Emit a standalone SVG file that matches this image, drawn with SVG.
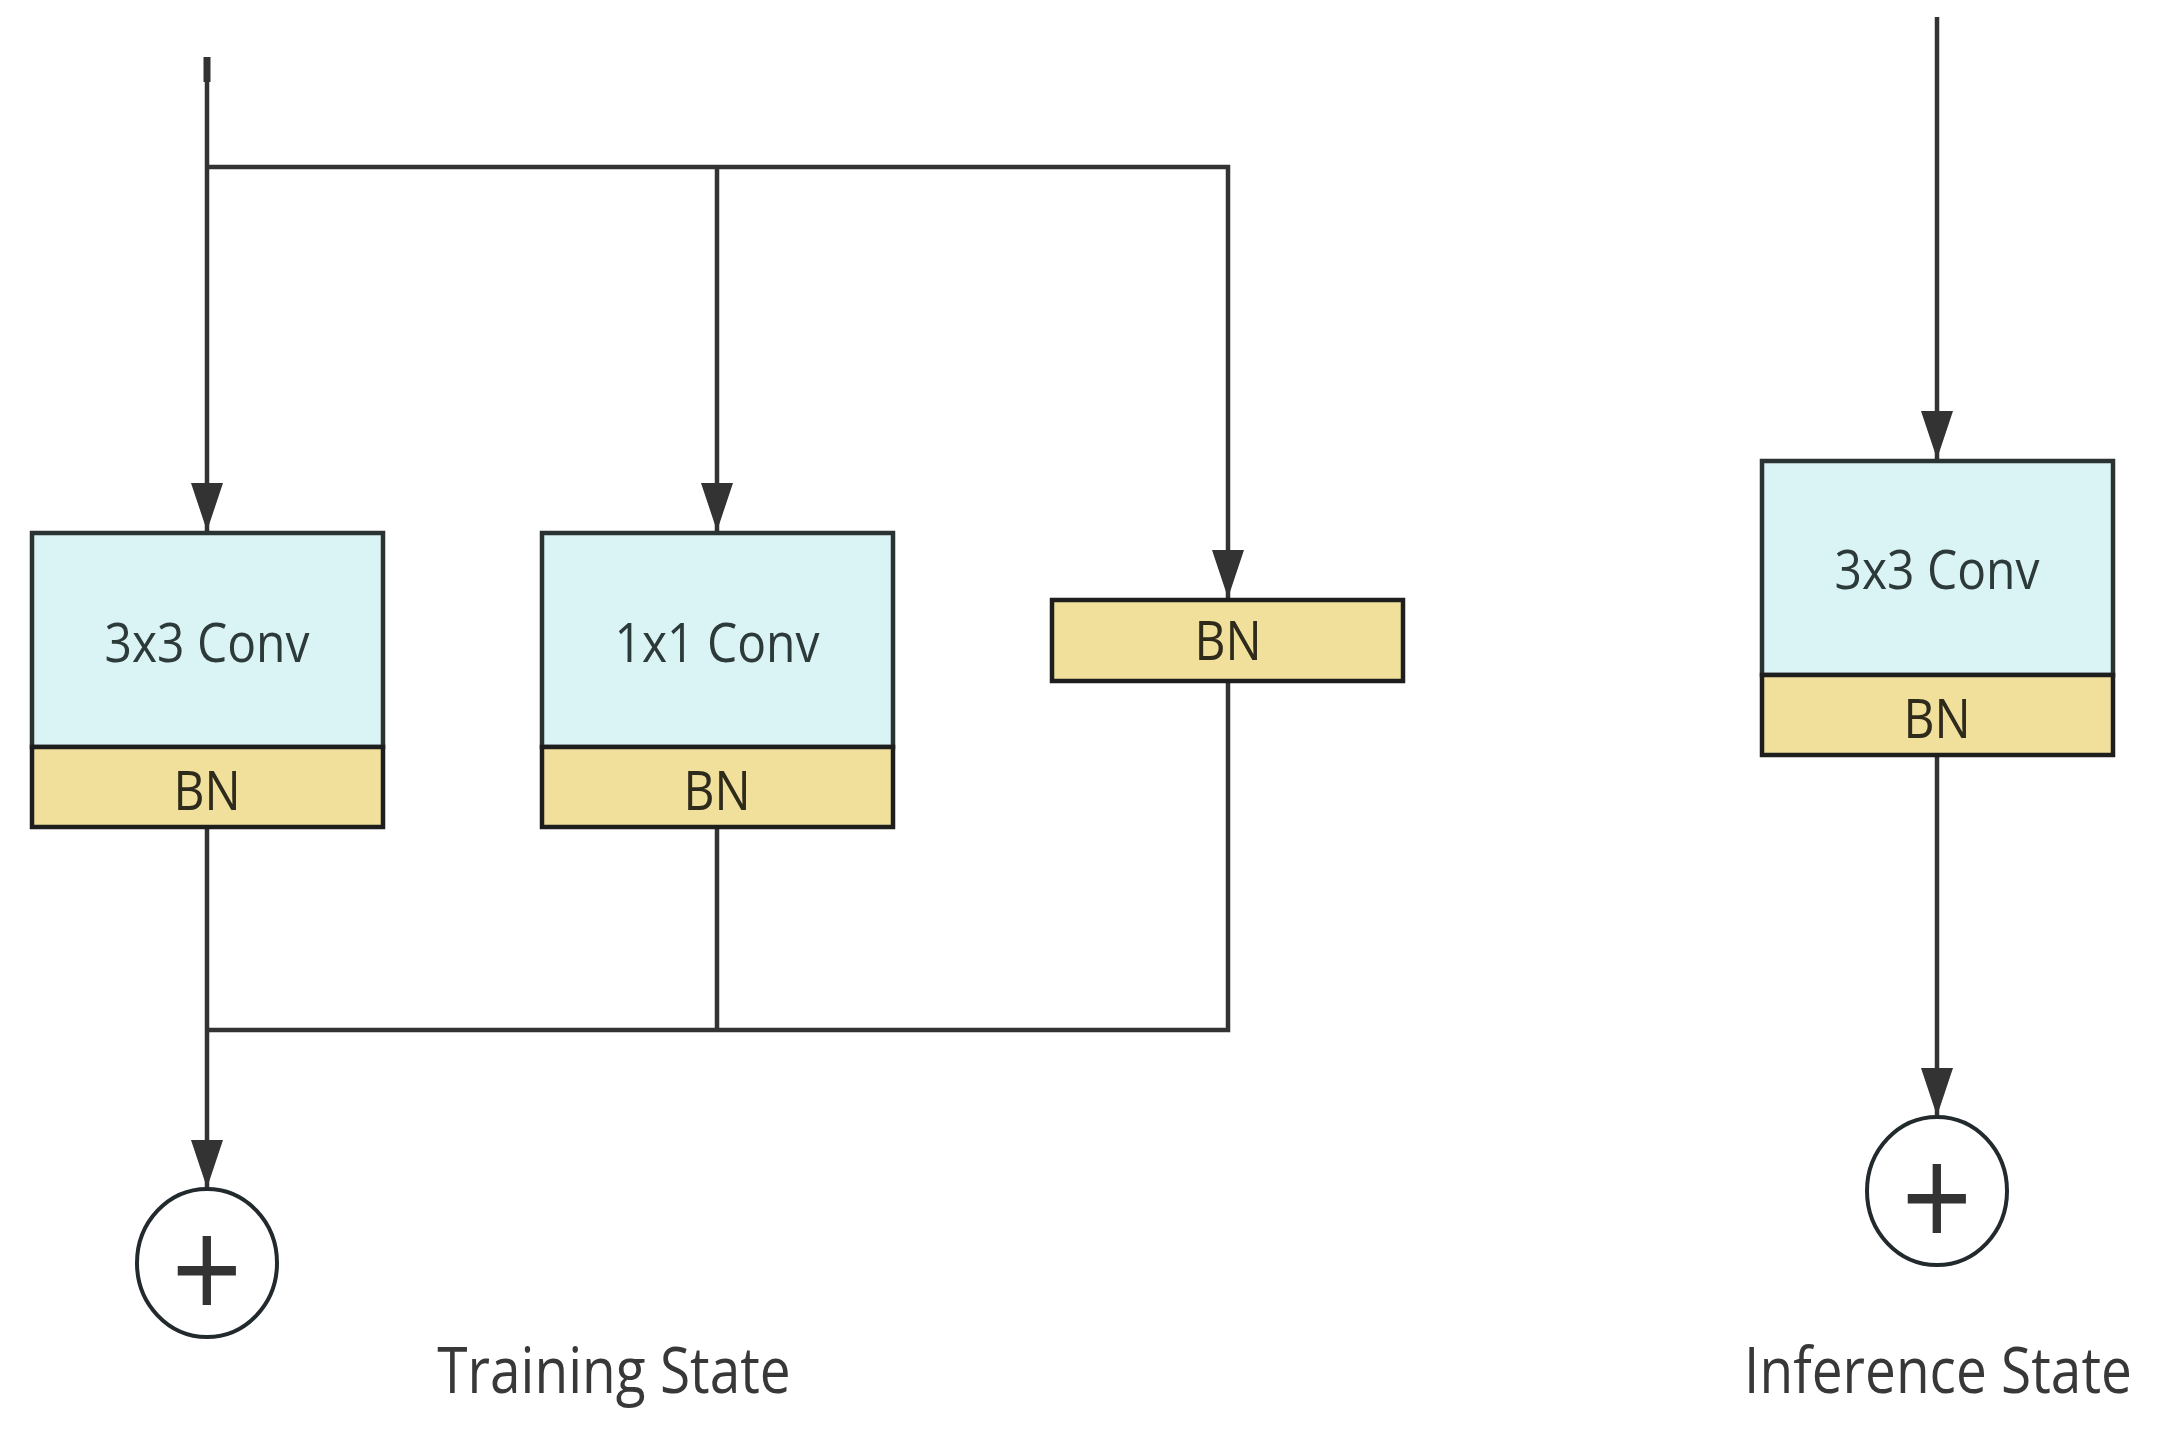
<svg xmlns="http://www.w3.org/2000/svg" width="2168" height="1433" viewBox="0 0 2168 1433">
<defs>
<marker id="arr" markerUnits="userSpaceOnUse" markerWidth="48" markerHeight="32" refX="48" refY="16" orient="auto" viewBox="0 0 48 32">
<path d="M0,0 L48,16 L0,32 Z" fill="#333"/>
</marker>
<style>
.ln{fill:none;stroke:#333;stroke-width:4.5}
.conv{fill:#daf3f5;stroke:#2a3232;stroke-width:4.5}
.bn{fill:#f0e09c;stroke:#1e1e1e;stroke-width:4.5}
.add{fill:#fff;stroke:#222a2e;stroke-width:4}
.t{font-family:"Open Sans","Noto Sans",sans-serif;font-size:48px;text-anchor:middle}
.tc{fill:#2d3a3a}
.tb{fill:#2e2a1c}
.lab{font-family:"Open Sans","Noto Sans",sans-serif;font-size:55px;text-anchor:middle;fill:#383838}
.plus{font-family:"Open Sans","Noto Sans",sans-serif;font-size:124px;text-anchor:middle;fill:#333}
</style>
</defs>
<rect width="2168" height="1433" fill="#ffffff"/>
<g id="connectors">
<rect x="203.5" y="57" width="7" height="25" fill="#333"/>
<path class="ln" d="M207,57 V531" marker-end="url(#arr)"/>
<path class="ln" d="M207,167 H1228 V598" marker-end="url(#arr)"/>
<path class="ln" d="M717,167 V531" marker-end="url(#arr)"/>
<path class="ln" d="M207,827 V1188" marker-end="url(#arr)"/>
<path class="ln" d="M717,827 V1030"/>
<path class="ln" d="M1228,681 V1030 H207"/>
<path class="ln" d="M1937,17 V459" marker-end="url(#arr)"/>
<path class="ln" d="M1937,755 V1116" marker-end="url(#arr)"/>
</g>
<g id="train-3x3">
<rect class="conv" x="32" y="533" width="351" height="214"/>
<rect class="bn" x="32" y="747" width="351" height="80"/>
<text class="t tc" transform="translate(207,662) scale(1,1.15)">3x3 Conv</text>
<text class="t tb" transform="translate(207,810) scale(1,1.15)">BN</text>
</g>
<g id="train-1x1">
<rect class="conv" x="542" y="533" width="351" height="214"/>
<rect class="bn" x="542" y="747" width="351" height="80"/>
<text class="t tc" transform="translate(717,662) scale(1,1.15)">1x1 Conv</text>
<text class="t tb" transform="translate(717,810) scale(1,1.15)">BN</text>
</g>
<g id="train-bn">
<rect class="bn" x="1052" y="600" width="351" height="81"/>
<text class="t tb" transform="translate(1228,660) scale(1,1.15)">BN</text>
</g>
<g id="train-add">
<ellipse class="add" cx="207" cy="1263" rx="70" ry="74"/>
<text class="plus" transform="translate(207,1321) scale(1,1.15)">+</text>
</g>
<g id="infer-3x3">
<rect class="conv" x="1762" y="461" width="351" height="214"/>
<rect class="bn" x="1762" y="675" width="351" height="80"/>
<text class="t tc" transform="translate(1937,589) scale(1,1.15)">3x3 Conv</text>
<text class="t tb" transform="translate(1937,738) scale(1,1.15)">BN</text>
</g>
<g id="infer-add">
<ellipse class="add" cx="1937" cy="1191" rx="70" ry="74"/>
<text class="plus" transform="translate(1937,1249) scale(1,1.15)">+</text>
</g>
<g id="labels">
<text class="lab" transform="translate(614,1393) scale(1,1.15)">Training State</text>
<text class="lab" transform="translate(1938,1393) scale(1,1.15)">Inference State</text>
</g>
</svg>
